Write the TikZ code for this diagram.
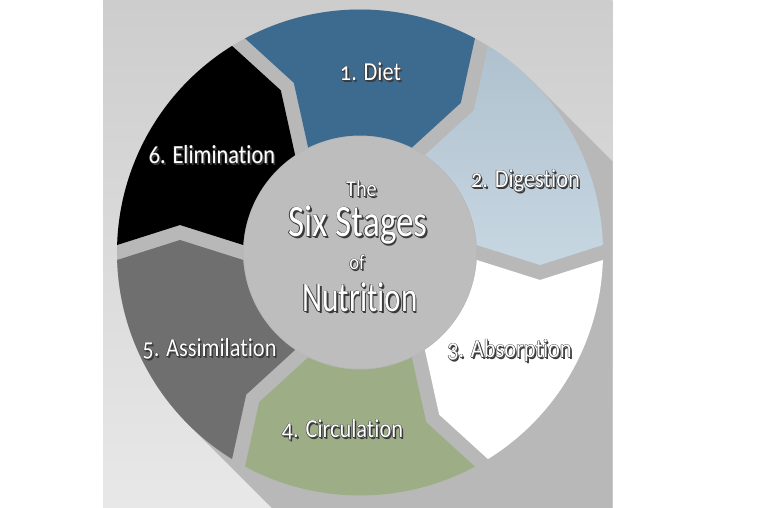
\documentclass[tikz,border=0pt]{standalone}
\usepackage{fontspec}
\newfontfamily\segfont[Numbers=OldStyle,Ligatures=NoCommon,FakeStretch=0.86]{Carlito}
\newfontfamily\ttlA[FakeStretch=0.78,Ligatures=NoCommon]{Carlito}
\newfontfamily\ttlB[FakeStretch=0.74,Ligatures=NoCommon]{Carlito}
\newfontfamily\ttlC[FakeStretch=0.88,Ligatures=NoCommon]{Carlito}
\definecolor{panelTop}{HTML}{CDCDCD}
\definecolor{panelBot}{HTML}{E8E8E8}
\definecolor{shadowc}{HTML}{B8B8B8}
\definecolor{hubc}{HTML}{BDBDBD}
\definecolor{dietc}{HTML}{3D6A8F}
\definecolor{digTop}{HTML}{AFC1CE}
\definecolor{digBot}{HTML}{C7D7E2}
\definecolor{circc}{HTML}{9DAE87}
\definecolor{assimc}{HTML}{6F6F6F}
\definecolor{txtsh}{HTML}{3A3A3A}
\definecolor{txtol}{HTML}{3C3C3C}
\newcommand{\shd}[1]{\leavevmode
  \rlap{\kern1.6pt\raisebox{-1.6pt}{\textcolor{txtsh}{#1}}}%
  \rlap{\kern-0.5pt\textcolor{txtol}{#1}}%
  \rlap{\kern0.5pt\textcolor{txtol}{#1}}%
  \rlap{\raisebox{0.5pt}{\textcolor{txtol}{#1}}}%
  \rlap{\raisebox{-0.5pt}{\textcolor{txtol}{#1}}}%
  #1}
\newcommand{\ringseg}[3]{%
  \path[#3] ({#1-1.77}:243) arc[start angle={#1-1.77}, end angle={#2+1.77}, radius=243]
   -- ([rotate=#2]180,-12.5) -- ({#2+3.68}:117)
   arc[start angle={#2+3.68}, end angle={#1-3.68}, radius=117]
   -- ([rotate=#1]180,-27.5) -- cycle;}
\begin{document}
\begin{tikzpicture}[x=1pt,y=1pt,
  seglabel/.style={text=white,anchor=base,inner sep=0pt,font=\segfont\fontsize{26}{30}\selectfont},
  ttl/.style={text=white,anchor=base,inner sep=0pt}]
\useasboundingbox (0,0) rectangle (763,508);
\shade[top color=panelTop,bottom color=panelBot] (103,0) rectangle (612.5,508);
\begin{scope}
  \clip (103,0) rectangle (612.5,508);
  \fill[shadowc] (360,255.5) circle[radius=243];
  \fill[shadowc] (531.8,427.3) -- (931.8,27.3) -- (588.2,-316.3) -- (188.2,83.7) -- cycle;
\end{scope}
\begin{scope}[shift={(360,255.5)}]
  \ringseg{120}{60}{fill=dietc}
  \ringseg{60}{0}{top color=digTop,bottom color=digBot}
  \ringseg{0}{-60}{fill=white}
  \ringseg{-60}{-120}{fill=circc}
  \ringseg{-120}{-180}{fill=assimc}
  \ringseg{180}{120}{fill=black}
\end{scope}
\node[circle,fill=hubc,minimum size=232pt,inner sep=0pt] (hub) at (360,255.5) {};
\node[seglabel] (l1) at (370.5,427) {\shd{1. Diet}};
\node[seglabel] (l2) at (525.5,320) {\shd{2. Digestion}};
\node[seglabel] (l3) at (509.5,150) {\shd{3. Absorption}};
\node[seglabel] (l4) at (342.5,70) {\shd{4. Circulation}};
\node[seglabel] (l5) at (209.5,151) {\shd{5. Assimilation}};
\node[seglabel] (l6) at (212,344) {\shd{6. Elimination}};
\node[ttl,font=\ttlC\fontsize{23}{26}\selectfont] (t1) at (361.5,311) {\shd{The}};
\node[ttl,font=\ttlA\fontsize{45}{50}\selectfont] (t2) at (358,271) {\shd{Six Stages}};
\node[ttl,font=\ttlC\fontsize{21}{24}\selectfont] (t3) at (357,238) {\shd{of}};
\node[ttl,font=\ttlB\fontsize{42}{46}\selectfont] (t4) at (360,196) {\shd{Nutrition}};
\end{tikzpicture}
\end{document}
